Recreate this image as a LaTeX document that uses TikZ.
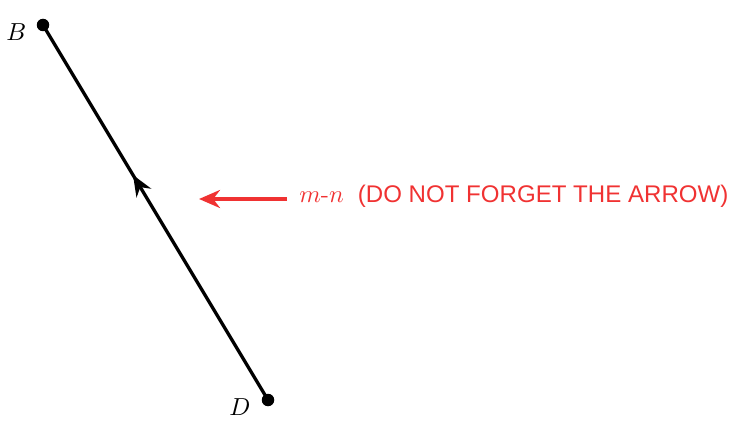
\documentclass[tikz,border=0pt]{standalone}
\usepackage{fontspec}
\newfontfamily\labelfont{Liberation Sans}
\usetikzlibrary{arrows.meta,decorations.markings}
\definecolor{notered}{RGB}{240,50,50}
\begin{document}
\begin{tikzpicture}
	\useasboundingbox (0,0) rectangle (15,8.48);
	\tikzset{
		dot/.style={circle,fill=black,inner sep=0pt,minimum size=0.25cm},
		midarrow/.style={postaction={decorate},decoration={markings,
			mark=at position 0.6 with {\arrow{Stealth[length=0.42cm,width=0.34cm]}}}}
	}
	\node[dot] (B) at (0.86,7.98) {};
	\node[dot] (D) at (5.36,0.48) {};
	\draw (B) node[left=0.16cm,yshift=-0.14cm,scale=1.4]{$B$};
	\draw (D) node[left=0.18cm,yshift=-0.14cm,scale=1.4]{$D$};
	\draw [line width=1.9pt,midarrow] (D.center)--(B.center);
	\node[text=notered,anchor=west,inner sep=0pt] (note) at (5.98,4.56)
		{\scalebox{1.4}{$m$-$n$}\hspace{0.28cm}{\labelfont\fontsize{13.7}{16}\selectfont (DO NOT FORGET THE ARROW)}};
	\coordinate (tip) at (3.98,4.5);
	\draw [notered,line width=2pt,-{Stealth[length=0.42cm,width=0.36cm]}] (5.74,4.5)--(tip);
\end{tikzpicture}
\end{document}
